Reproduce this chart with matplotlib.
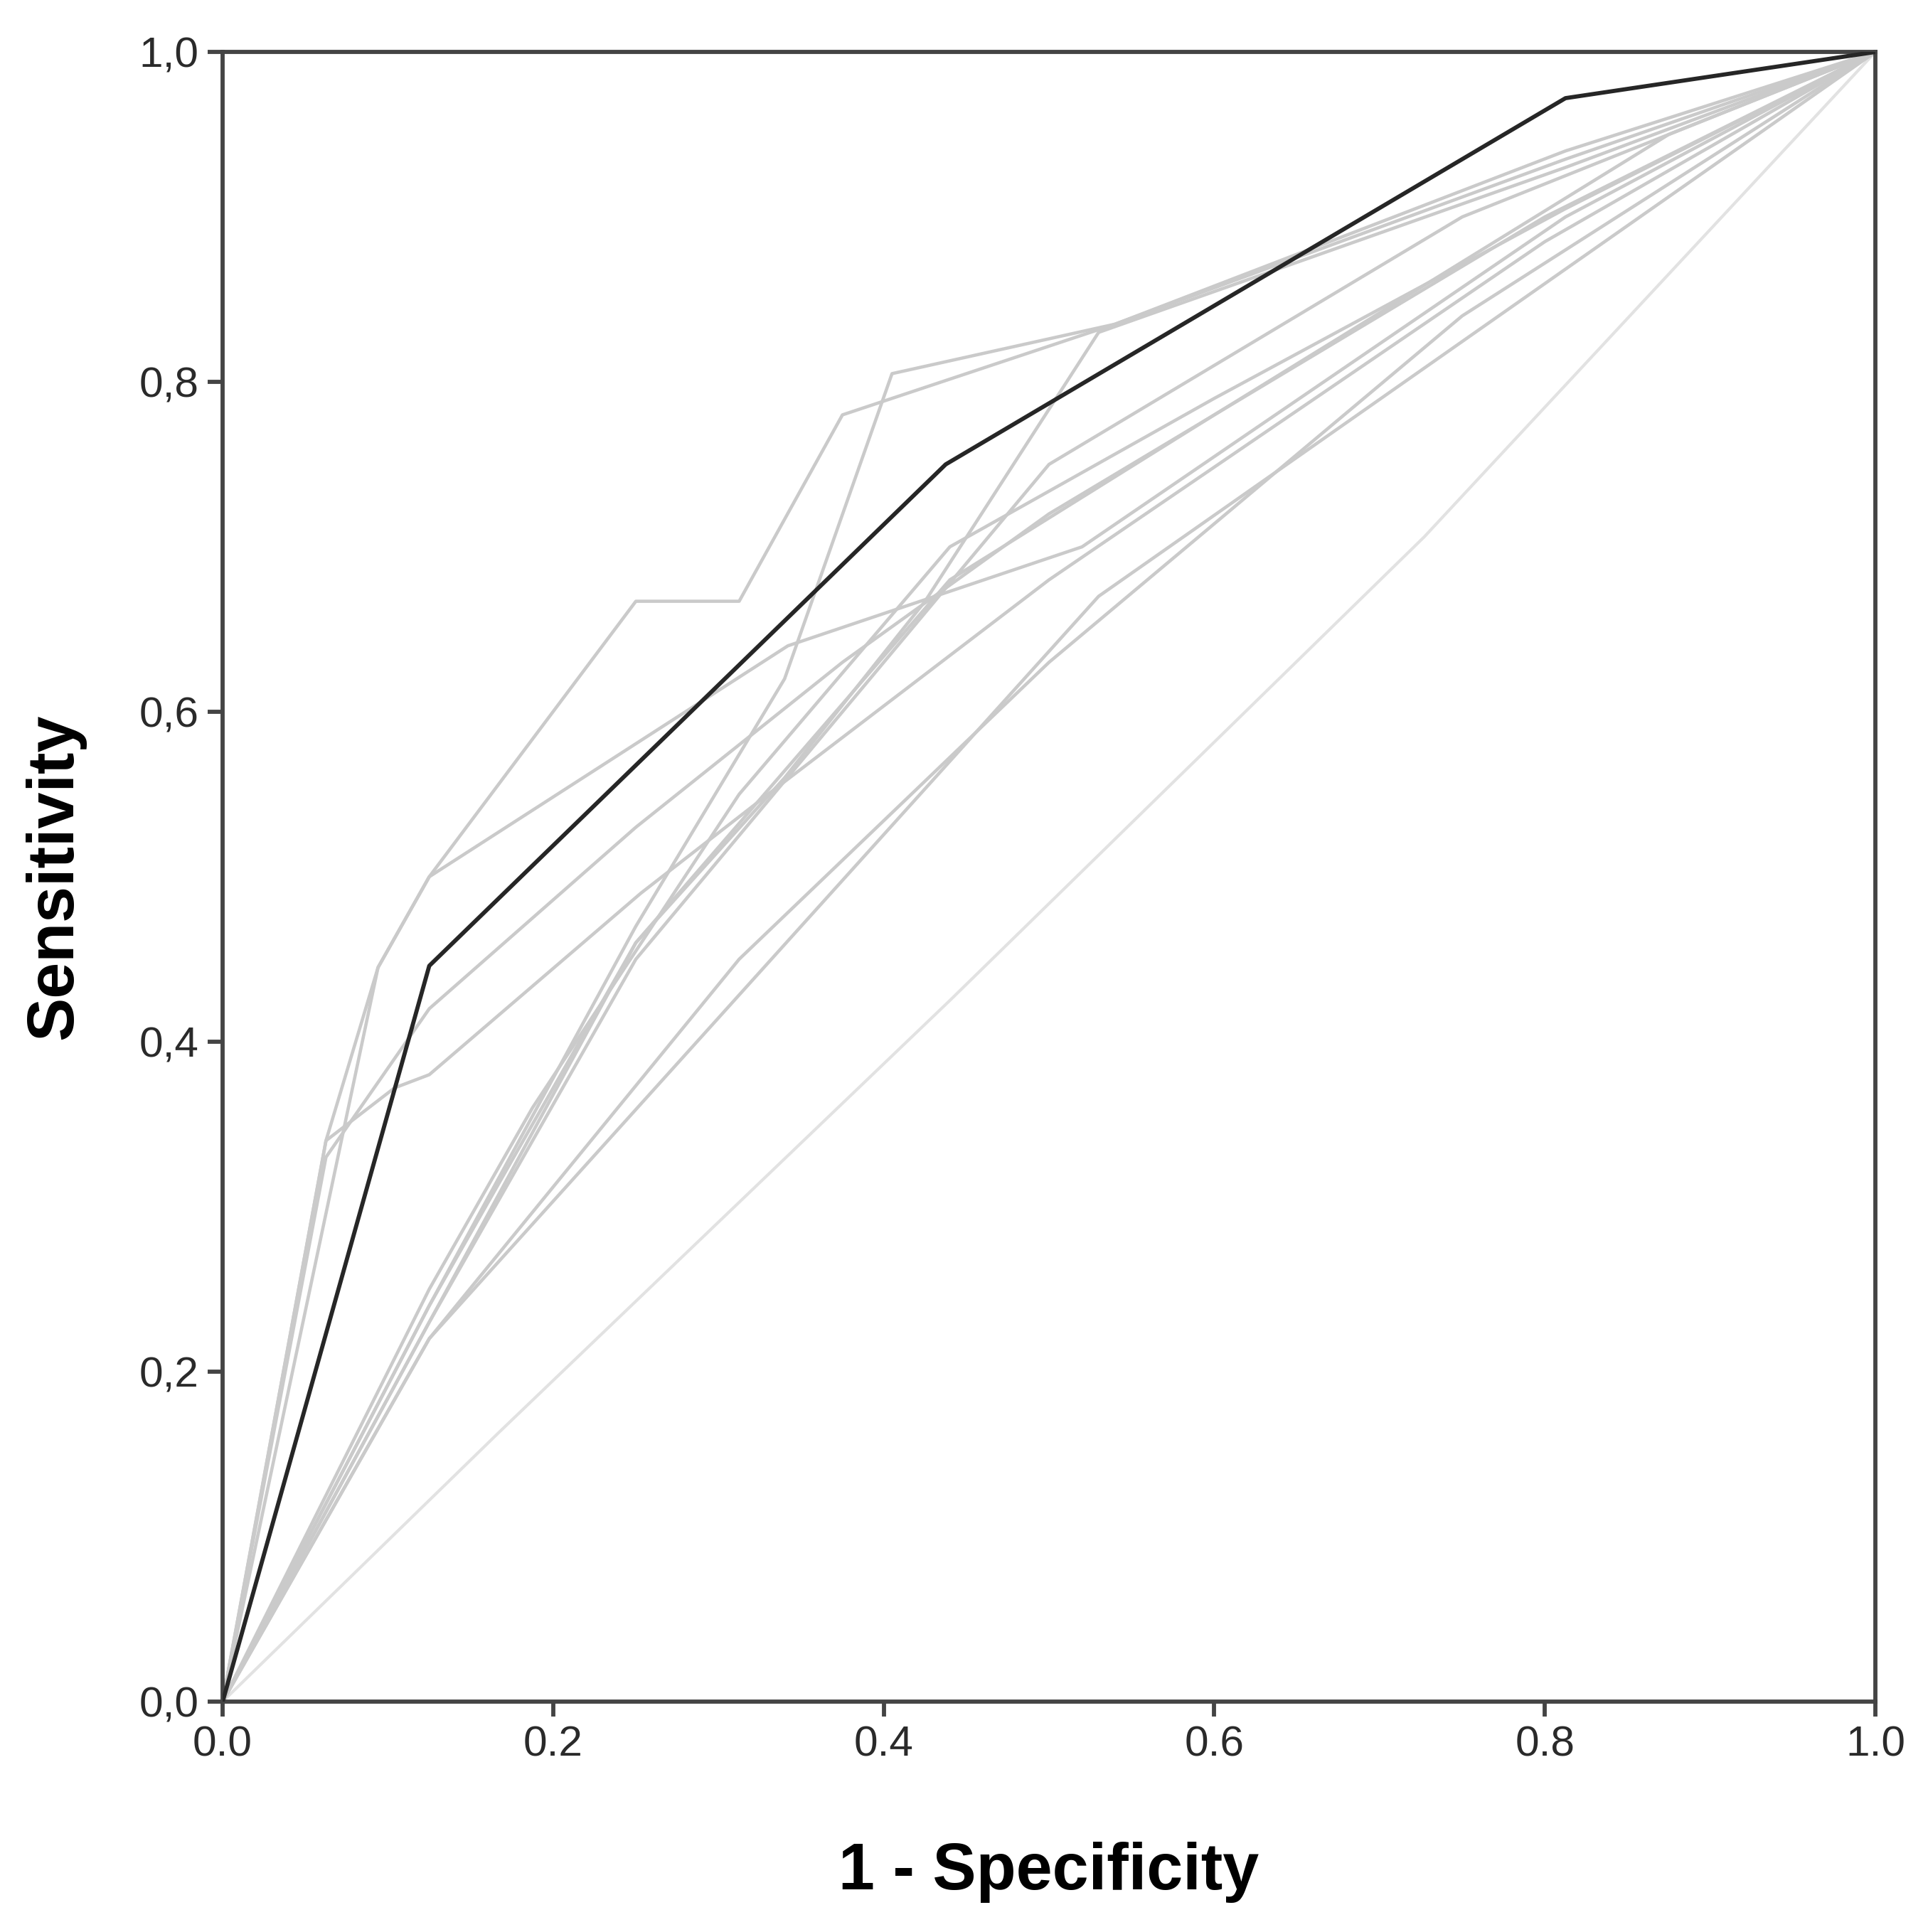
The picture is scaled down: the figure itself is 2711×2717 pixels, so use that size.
import matplotlib
matplotlib.use("Agg")
import matplotlib.pyplot as plt

plt.rcParams["font.family"] = ["Liberation Sans", "DejaVu Sans"]

# ROC curve of the final model (dark line)
main_fpr = [0, 0.125, 0.4375, 0.8125, 1.0]
main_tpr = [0, 0.446, 0.75, 0.972, 1.0]

# ROC curves of the other models (light grey)
grey_fpr = [
    [0, 0.0625, 0.094, 0.125, 0.25, 0.3125, 0.375, 0.54, 0.8125, 1],
    [0, 0.094, 0.125, 0.342, 0.52, 0.8125, 1],
    [0, 0.0625, 0.104, 0.125, 0.253, 0.33, 0.5, 0.8, 1],
    [0, 0.125, 0.25, 0.34, 0.405, 0.54, 0.8125, 1],
    [0, 0.125, 0.25, 0.34, 0.425, 0.53, 0.8125, 1],
    [0, 0.125, 0.25, 0.375, 0.5, 0.75, 1],
    [0, 0.125, 0.53, 1],
    [0, 0.0625, 0.125, 0.25, 0.375, 0.5, 0.8, 1],
    [0, 0.125, 0.1875, 0.3125, 0.44, 0.6, 0.8125, 1],
    [0, 0.125, 0.3125, 0.5, 0.75, 1],
    [0, 0.125, 0.25, 0.44, 0.6, 0.875, 1],
]
grey_tpr = [
    [0, 0.34, 0.445, 0.5, 0.667, 0.667, 0.78, 0.835, 0.94, 1],
    [0, 0.445, 0.5, 0.64, 0.70, 0.90, 1],
    [0, 0.34, 0.372, 0.38, 0.49, 0.55, 0.68, 0.885, 1],
    [0, 0.24, 0.47, 0.62, 0.805, 0.835, 0.935, 1],
    [0, 0.23, 0.46, 0.56, 0.667, 0.83, 0.93, 1],
    [0, 0.23, 0.45, 0.6, 0.75, 0.9, 1],
    [0, 0.22, 0.67, 1],
    [0, 0.33, 0.42, 0.53, 0.63, 0.72, 0.90, 1],
    [0, 0.25, 0.36, 0.55, 0.70, 0.79, 0.905, 1],
    [0, 0.22, 0.45, 0.63, 0.84, 1],
    [0, 0.24, 0.46, 0.68, 0.78, 0.95, 1],
]

# near-chance curve (palest line)
pale_fpr = [0, 0.167, 0.44, 0.727, 1]
pale_tpr = [0, 0.163, 0.425, 0.706, 1]

x_ticks = [0.0, 0.2, 0.4, 0.6, 0.8, 1.0]
x_labels = ["0.0", "0.2", "0.4", "0.6", "0.8", "1.0"]
y_ticks = [0.0, 0.2, 0.4, 0.6, 0.8, 1.0]
y_labels = ["0,0", "0,2", "0,4", "0,6", "0,8", "1,0"]

fig = plt.figure(figsize=(2711 / 300, 2717 / 300), dpi=300)
ax = fig.add_axes([0.1155, 0.1193, 0.8572, 0.8538])

ax.plot(pale_fpr, pale_tpr, color="#e2e2e2", lw=1.0, zorder=1)
for fx, ty in zip(grey_fpr, grey_tpr):
    ax.plot(fx, ty, color="#cacaca", lw=1.1, zorder=2)
ax.plot(main_fpr, main_tpr, color="#262626", lw=1.4, zorder=3)

ax.set_xlim(0, 1)
ax.set_ylim(0, 1)
ax.set_xticks(x_ticks)
ax.set_xticklabels(x_labels)
ax.set_yticks(y_ticks)
ax.set_yticklabels(y_labels)

for s in ax.spines.values():
    s.set_color("#444444")
    s.set_linewidth(1.4)
ax.tick_params(direction="out", length=5, width=1.4, color="#444444",
               labelsize=14.5, labelcolor="#2a2a2a", pad=3)

ax.set_xlabel("1 - Specificity", fontsize=22, fontweight="bold", labelpad=26)
ax.set_ylabel("Sensitivity", fontsize=22, fontweight="bold", labelpad=18)

fig.savefig("out.png", dpi=300, facecolor="white")
